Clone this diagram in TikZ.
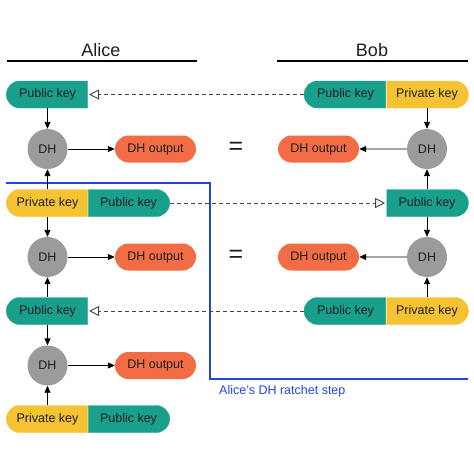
\documentclass[tikz,border=0pt]{standalone}
\usepackage{fontspec}
\setmainfont{Liberation Sans}
\usetikzlibrary{shapes.misc,arrows.meta}
\definecolor{tealc}{HTML}{19A08D}
\definecolor{yellowc}{HTML}{F4C232}
\definecolor{orangec}{HTML}{F26D45}
\definecolor{grayc}{HTML}{9B9B9B}
\definecolor{txtc}{HTML}{1E1E1E}
\definecolor{bluec}{HTML}{2344E0}
\definecolor{dashc}{HTML}{444444}
\begin{document}
\begin{tikzpicture}[x=1pt,y=-1pt,
  every node/.style={inner sep=0pt, text=txtc, font=\fontsize{12.5}{14}\selectfont},
  keybox/.style={rounded rectangle, minimum width=81pt, minimum height=27pt},
  roundleft/.style={keybox, rounded rectangle east arc=none},
  roundright/.style={keybox, rounded rectangle west arc=none},
  pubc/.style={fill=tealc, draw=tealc, line width=0.4pt},
  privc/.style={fill=yellowc, draw=yellowc, line width=0.4pt},
  dhout/.style={keybox, fill=orangec},
  dh/.style={circle, fill=grayc, minimum size=40pt},
  eqsign/.style={font=\fontsize{25}{28}\selectfont},
  title/.style={font=\fontsize{18}{20}\selectfont},
  arr/.style={draw=black, line width=0.9pt, -{Triangle[length=7pt,width=6pt]}},
  darr/.style={draw=dashc, line width=0.9pt, dash pattern=on 4pt off 3pt, -{Triangle[open,length=10pt,width=10pt]}, shorten >=1.5pt}
]
\useasboundingbox (0,0) rectangle (474,467);

% titles
\node[title] (alice) at (101,50) {Alice};
\node[title] (bob) at (372,50) {Bob};
\draw[line width=1.2pt] (7,61) -- (197,61);
\draw[line width=1.2pt] (277,61) -- (468,61);

% blue step boundary
\draw[bluec, line width=1.6pt] (6,183) -- (210,183) -- (210,379) -- (468,379);
\node[anchor=west, text=bluec, font=\fontsize{12.5}{14}\selectfont] (steplabel) at (219,391.5) {Alice’s DH ratchet step};

% row 1
\node[roundleft, pubc] (a1pub) at (47.5,94.5) {Public key};
\node[roundleft, pubc, minimum width=81.5pt] (b1pub) at (345.5,94.5) {Public key};
\node[roundright, privc, minimum width=81.5pt] (b1priv) at (427,94.5) {Private key};

% row 2
\node[dh] (a2dh) at (47.5,149) {DH};
\node[dhout] (a2out) at (155.5,149) {DH output};
\node[eqsign] (eq2) at (236,148) {=};
\node[dhout] (b2out) at (318.5,149) {DH output};
\node[dh] (b2dh) at (427,149) {DH};

% row 3
\node[roundleft, privc] (a3priv) at (47.5,203) {Private key};
\node[roundright, pubc] (a3pub) at (128.5,203) {Public key};
\node[roundright, pubc, minimum width=81.5pt] (b3pub) at (427,203) {Public key};

% row 4
\node[dh] (a4dh) at (47.5,257) {DH};
\node[dhout] (a4out) at (155.5,257) {DH output};
\node[eqsign] (eq4) at (236,256) {=};
\node[dhout] (b4out) at (318.5,257) {DH output};
\node[dh] (b4dh) at (427,257) {DH};

% row 5
\node[roundleft, pubc] (a5pub) at (47.5,311) {Public key};
\node[roundleft, pubc, minimum width=81.5pt] (b5pub) at (345.5,311) {Public key};
\node[roundright, privc, minimum width=81.5pt] (b5priv) at (427,311) {Private key};

% row 6
\node[dh] (a6dh) at (47.5,365.5) {DH};
\node[dhout] (a6out) at (155.5,365.5) {DH output};

% row 7
\node[roundleft, privc] (a7priv) at (47.5,419) {Private key};
\node[roundright, pubc] (a7pub) at (128.5,419) {Public key};

% dashed transfers
\draw[darr] (b1pub.west) -- (a1pub.east);
\draw[darr] (a3pub.east) -- (b3pub.west);
\draw[darr] (b5pub.west) -- (a5pub.east);

% Alice arrows
\draw[arr] (a1pub.south) -- (a2dh.north);
\draw[arr] (a2dh) -- (a2out);
\draw[arr] (a3priv.north) -- (a2dh.south);
\draw[arr] (a3priv.south) -- (a4dh.north);
\draw[arr] (a4dh) -- (a4out);
\draw[arr] (a5pub.north) -- (a4dh.south);
\draw[arr] (a5pub.south) -- (a6dh.north);
\draw[arr] (a6dh) -- (a6out);
\draw[arr] (a7priv.north) -- (a6dh.south);

% Bob arrows
\draw[arr] (b1priv.south) -- (b2dh.north);
\draw[arr] (b2dh) -- (b2out);
\draw[arr] (b3pub.north) -- (b2dh.south);
\draw[arr] (b3pub.south) -- (b4dh.north);
\draw[arr] (b4dh) -- (b4out);
\draw[arr] (b5priv.north) -- (b4dh.south);
\end{tikzpicture}
\end{document}
